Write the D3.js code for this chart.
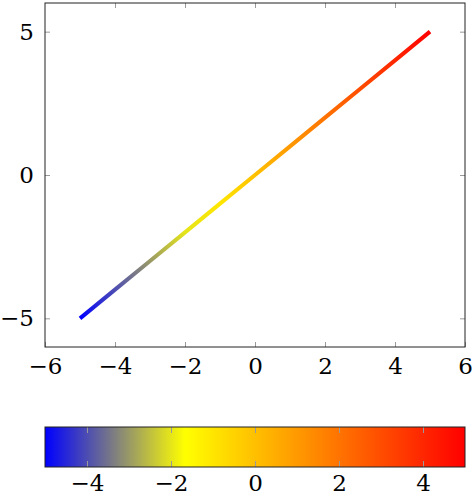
<!DOCTYPE html>
<html>
<head>
<meta charset="utf-8">
<script src="https://cdn.jsdelivr.net/npm/d3@7"></script>
<style>
  body { margin: 0; background: #fff; }
  svg { display: block; }
</style>
</head>
<body>
<div id="chart"></div>
<script>
// line data (y = x)
const xValues = [-5, -4, -3, -2, -1, 0, 1, 2, 3, 4, 5];
const yValues = [-5, -4, -3, -2, -1, 0, 1, 2, 3, 4, 5];

// axes
const xTicks = [-6, -4, -2, 0, 2, 4, 6];
const yTicks = [-5, 0, 5];
const barTicks = [-4, -2, 0, 2, 4];

// colormap: blue -> yellow -> orange -> red over [-5, 5]
const cmapValues = [-5, -5 + 10 / 3, -5 + 20 / 3, 5];
const cmapColors = ["#0000ff", "#ffff00", "#ff8000", "#ff0000"];

const W = 474, H = 498;
const plot = { left: 45, right: 465, top: 3, bottom: 347 };
const bar = { left: 45, right: 465, top: 427, bottom: 467 };
const fontFamily = "'DejaVu Serif', serif";
const fontSize = "23px";
const tickColor = "#9a9a9a";

const svg = d3.select("#chart").append("svg")
  .attr("width", W).attr("height", H);

const x = d3.scaleLinear().domain([-6, 6]).range([plot.left, plot.right]);
const y = d3.scaleLinear().domain([-6, 6]).range([plot.bottom, plot.top]);
const cx = d3.scaleLinear().domain([-5, 5]).range([bar.left, bar.right]);
const color = d3.scaleLinear().domain(cmapValues).range(cmapColors)
  .interpolate(d3.interpolateRgb);

const fmt = d => d < 0 ? "\u2212" + Math.abs(d) : String(d);

const defs = svg.append("defs");

// gradient for the line, along its own direction
const pts = xValues.map((v, i) => ({ x: v, y: yValues[i] }));
const lineGrad = defs.append("linearGradient")
  .attr("id", "lineGrad")
  .attr("gradientUnits", "userSpaceOnUse")
  .attr("x1", x(pts[0].x)).attr("y1", y(pts[0].y))
  .attr("x2", x(pts[pts.length - 1].x)).attr("y2", y(pts[pts.length - 1].y));
lineGrad.selectAll("stop")
  .data(pts)
  .enter().append("stop")
  .attr("offset", (d, i) => i / (pts.length - 1))
  .attr("stop-color", d => color(d.x));

// gradient for the colorbar
const barGrad = defs.append("linearGradient")
  .attr("id", "barGrad")
  .attr("x1", "0%").attr("x2", "100%").attr("y1", "0%").attr("y2", "0%");
barGrad.selectAll("stop")
  .data(cmapValues)
  .enter().append("stop")
  .attr("offset", d => (d + 5) / 10)
  .attr("stop-color", (d, i) => cmapColors[i]);

// axes with inward ticks on all sides
function styleAxis(g) {
  g.attr("font-family", fontFamily).attr("font-size", fontSize);
  g.select(".domain").remove();
  g.selectAll(".tick line").attr("stroke", tickColor).attr("stroke-width", 1);
  g.selectAll(".tick text").attr("fill", "#000");
}

svg.append("g")
  .attr("transform", `translate(0,${plot.bottom})`)
  .call(d3.axisBottom(x).tickValues(xTicks).tickFormat(fmt).tickSize(-5).tickPadding(11))
  .call(styleAxis);
svg.append("g")
  .attr("transform", `translate(0,${plot.top})`)
  .call(d3.axisTop(x).tickValues(xTicks.slice(1, -1)).tickFormat("").tickSize(-5))
  .call(styleAxis);
svg.append("g")
  .attr("transform", `translate(${plot.left},0)`)
  .call(d3.axisLeft(y).tickValues(yTicks).tickFormat(fmt).tickSize(-5).tickPadding(11))
  .call(styleAxis);
svg.append("g")
  .attr("transform", `translate(${plot.right},0)`)
  .call(d3.axisRight(y).tickValues(yTicks).tickFormat("").tickSize(-5))
  .call(styleAxis);

// the line
svg.append("path")
  .datum(pts)
  .attr("fill", "none")
  .attr("stroke", "url(#lineGrad)")
  .attr("stroke-width", 4)
  .attr("d", d3.line().x(d => x(d.x)).y(d => y(d.y)));

// plot frame
svg.append("rect")
  .attr("x", plot.left).attr("y", plot.top)
  .attr("width", plot.right - plot.left).attr("height", plot.bottom - plot.top)
  .attr("fill", "none").attr("stroke", "#222").attr("stroke-width", 1);

// colorbar
svg.append("rect")
  .attr("x", bar.left).attr("y", bar.top)
  .attr("width", bar.right - bar.left).attr("height", bar.bottom - bar.top)
  .attr("fill", "url(#barGrad)");

svg.append("g")
  .attr("transform", `translate(0,${bar.bottom})`)
  .call(d3.axisBottom(cx).tickValues(barTicks).tickFormat(fmt).tickSize(-6).tickPadding(8))
  .call(styleAxis);
svg.append("g")
  .attr("transform", `translate(0,${bar.top})`)
  .call(d3.axisTop(cx).tickValues(barTicks).tickFormat("").tickSize(-6))
  .call(styleAxis);

svg.append("rect")
  .attr("x", bar.left).attr("y", bar.top)
  .attr("width", bar.right - bar.left).attr("height", bar.bottom - bar.top)
  .attr("fill", "none").attr("stroke", "#222").attr("stroke-width", 1);
</script>
</body>
</html>
